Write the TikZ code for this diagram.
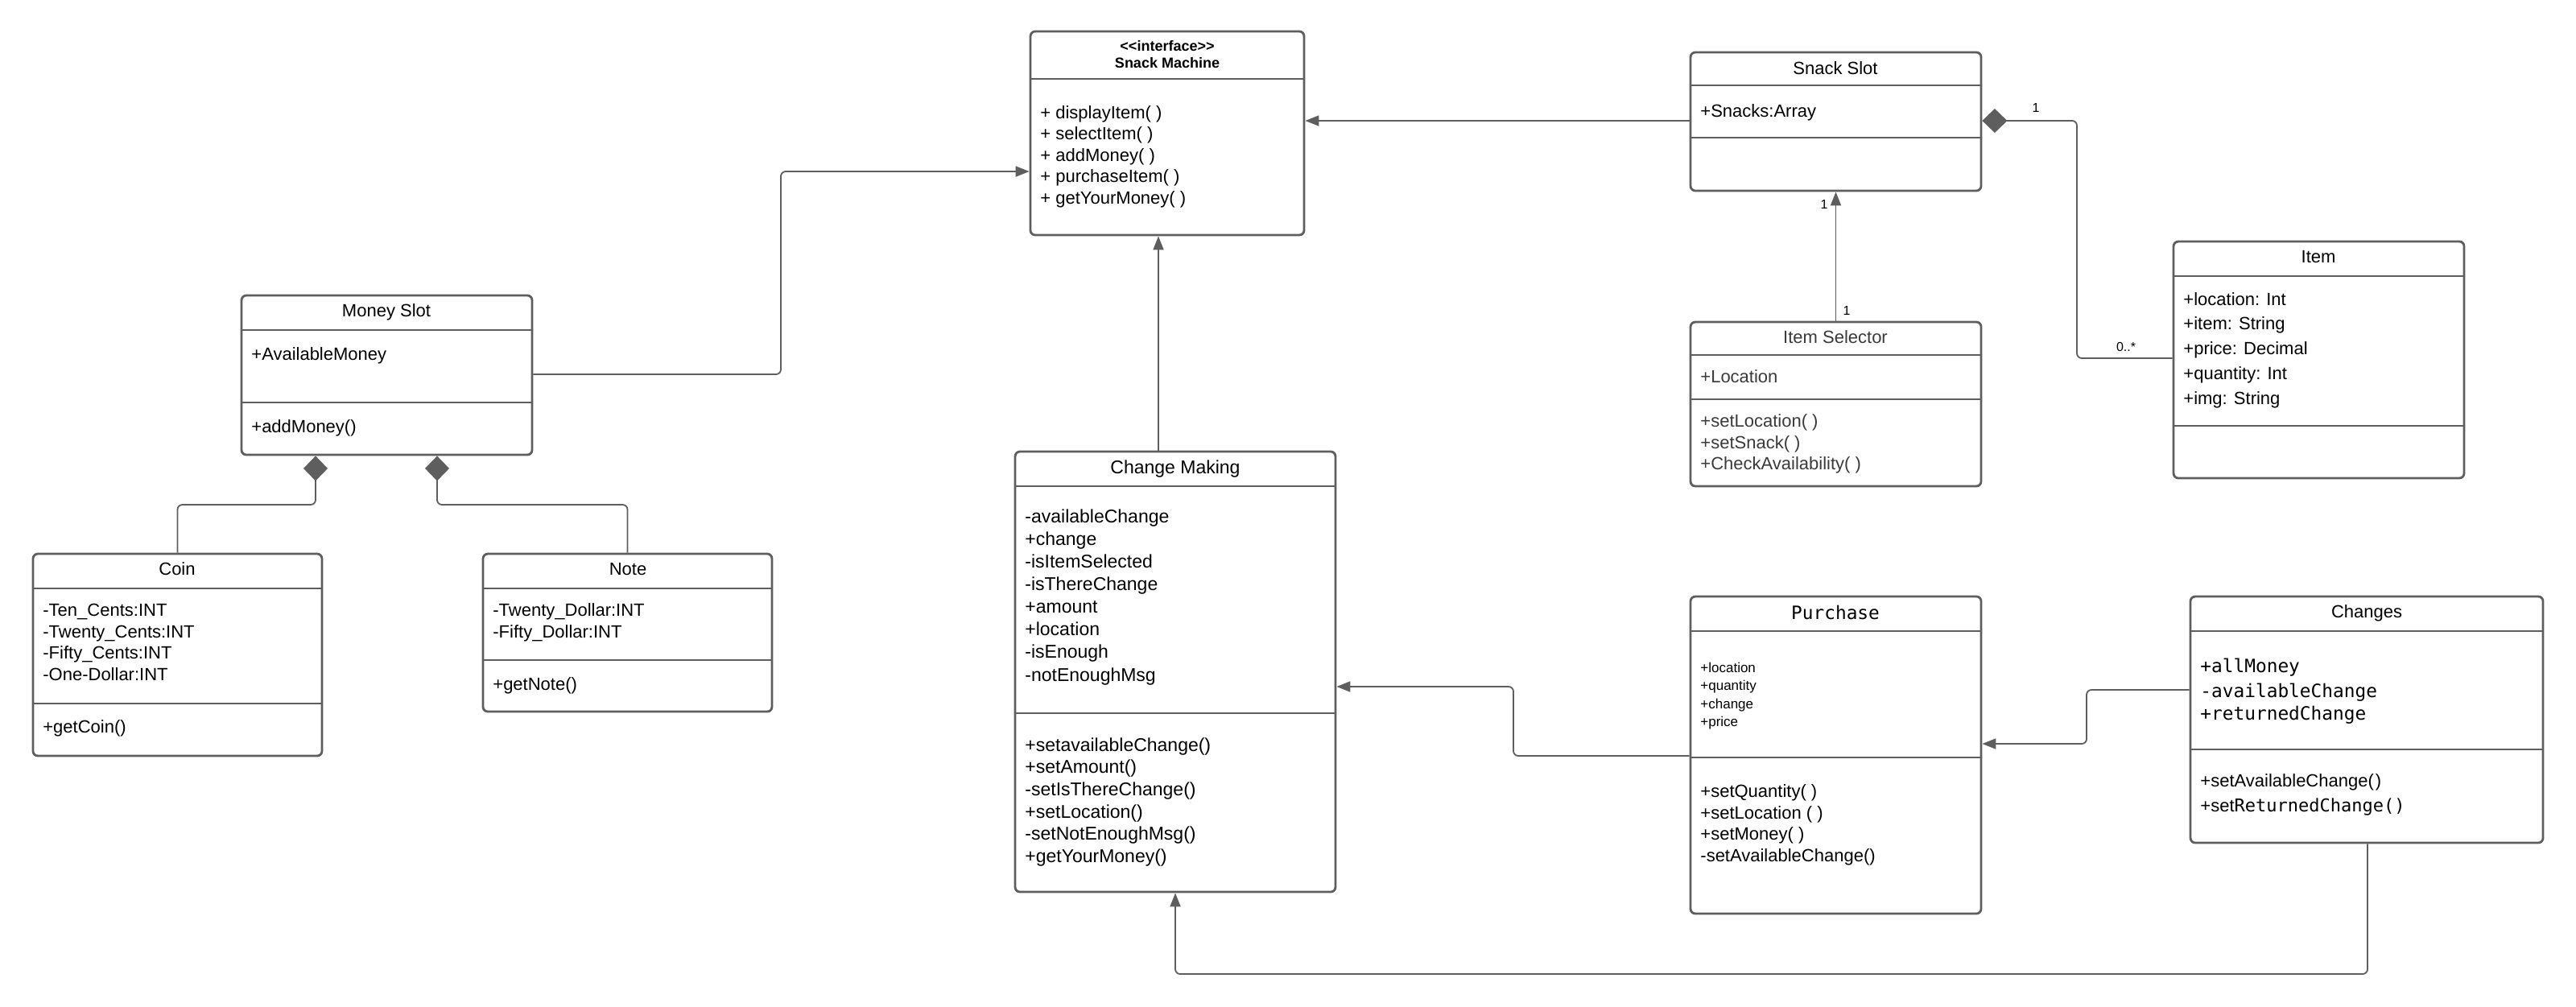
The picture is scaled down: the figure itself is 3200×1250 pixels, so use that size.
\documentclass[tikz,border=0pt]{standalone}
\usepackage{fontspec}
\setmainfont{Liberation Sans}
\newfontfamily\monof{DejaVu Sans Mono}
\usetikzlibrary{arrows.meta,fit,calc}
\definecolor{ln}{HTML}{5E5E5E}
\definecolor{isg}{HTML}{3A3A3A}
\tikzset{
 classbox/.style={draw=ln, line width=1.4pt, rounded corners=3pt, inner sep=0pt, fill=white},
 divline/.style={draw=ln, line width=1.4pt},
 conn/.style={draw=ln, line width=0.9pt, rounded corners=3pt},
 tri/.style={-{Triangle[length=8.5pt,width=6.5pt]}},
 dia/.style={{Diamond[length=15.5pt,width=15pt]}-},
 txt/.style={anchor=mid west, inner sep=0pt, yshift=-1pt, font=\fontsize{11}{13}\selectfont},
 bigtxt/.style={anchor=mid west, inner sep=0pt, yshift=-1pt, font=\fontsize{11.5}{13}\selectfont},
 smalltxt/.style={anchor=mid west, inner sep=0pt, yshift=-1pt, font=\fontsize{8.5}{10}\selectfont},
 monotxt/.style={anchor=mid west, inner sep=0pt, yshift=-1pt, font=\fontsize{11.4}{13}\monof},
 ttl/.style={anchor=mid, inner sep=0pt, yshift=-1pt, font=\fontsize{11}{13}\selectfont},
 hdr/.style={anchor=mid, inner sep=0pt, yshift=-0.5pt, font=\fontsize{9}{11}\selectfont\bfseries},
 mult/.style={anchor=mid, inner sep=0pt, font=\fontsize{8}{10}\selectfont},
}
\newcommand\umlcls[7]{%
 \node[classbox, fit={(#2,#3) (#4,#5)}] (#1) {};
 \draw[divline] (#2,#6) -- (#4,#6);
 \draw[divline] (#2,#7) -- (#4,#7);}
\newcommand\rows[6]{%
 \foreach \t [count=\i] in {#6} {\node[#5] (#1-\i) at (#2, {#3+(\i-1)*#4}) {\t};}}
\begin{document}
\begin{tikzpicture}[x=0.5pt,y=-0.5pt]
\fill[white] (0,0) rectangle (3200,1250);
\useasboundingbox (0,0) rectangle (3200,1250);

% Snack Machine
\node[classbox, fit={(1280,39) (1620,292)}] (sm) {};
\draw[divline] (1280,98) -- (1620,98);
\node[hdr] (sm-t1) at (1450,57) {<\kern0pt<interface>\kern0pt>};
\node[hdr] (sm-t2) at (1450,78) {Snack Machine};
\rows{sm-m}{1292}{140}{26.5}{txt}{+ displayItem( ), + selectItem( ), + addMoney( ), + purchaseItem( ), + getYourMoney( )}

% Snack Slot
\umlcls{ss}{2100}{65}{2461}{237}{106}{171}
\node[ttl] (ss-t) at (2280,85) {Snack Slot};
\node[txt] (ss-a) at (2112,138) {+Snacks:Array};

% Item Selector
\umlcls{is}{2100}{400}{2461}{604}{441}{496}
\node[ttl,text=isg] (is-t) at (2280,419) {Item Selector};
\node[txt,text=isg] (is-a) at (2112,468) {+Location};
\rows{is-m}{2112}{523}{26.7}{txt,text=isg}{+setLocation( ), +setSnack( ), +CheckAvailability( )}

% Item
\umlcls{it}{2700}{300}{3061}{594}{343}{529}
\node[ttl] (it-t) at (2880,319) {Item};
\rows{it-a}{2712}{372}{30.7}{txt}{+location: Int, +item: String, +price: Decimal, +quantity: Int, +img: String}

% Money Slot
\umlcls{ms}{300}{367}{661}{565}{410}{500}
\node[ttl] (ms-t) at (480,386) {Money Slot};
\node[txt] (ms-a) at (312,440) {+AvailableMoney};
\node[txt] (ms-m) at (312,530) {+addMoney()};

% Coin
\umlcls{coin}{41}{688}{400}{939}{731}{874}
\node[ttl] (coin-t) at (220,707) {Coin};
\rows{coin-a}{53}{758}{26.7}{txt}{-Ten\_Cents:INT, -Twenty\_Cents:INT, -Fifty\_Cents:INT, -One-Dollar:INT}
\node[txt] (coin-m) at (53,903) {+getCoin()};

% Note
\umlcls{note}{600}{688}{959}{884}{731}{820}
\node[ttl] (note-t) at (780,707) {Note};
\rows{note-a}{612}{758}{26.7}{txt}{-Twenty\_Dollar:INT, -Fifty\_Dollar:INT}
\node[txt] (note-m) at (612,850) {+getNote()};

% Change Making
\umlcls{cm}{1261}{561}{1659}{1108}{604}{886}
\node[ttl,font=\fontsize{11.5}{13}\selectfont] (cm-t) at (1460,581) {Change Making};
\rows{cm-a}{1273}{642}{28.1}{bigtxt}{-availableChange, +change, -isItemSelected, -isThereChange, +amount, +location, -isEnough, -notEnoughMsg}
\rows{cm-m}{1273}{926}{27.6}{bigtxt}{+setavailableChange(), +setAmount(), -setIsThereChange(), +setLocation(), -setNotEnoughMsg(), +getYourMoney()}

% Purchase
\umlcls{pu}{2100}{741}{2461}{1135}{784}{941}
\node[ttl,font=\fontsize{11.4}{13}\monof] (pu-t) at (2280,762) {Purchase};
\rows{pu-a}{2112}{828}{22.5}{smalltxt}{+location, +quantity, +change, +price}
\rows{pu-m}{2112}{983}{26.8}{txt}{+setQuantity( ), +setLocation ( ), +setMoney( ), -setAvailableChange()}

% Changes
\umlcls{ch}{2721}{741}{3159}{1047}{784}{931}
\node[ttl] (ch-t) at (2940,760) {Changes};
\node[monotxt] (ch-a1) at (2733,828) {+allMoney};
\node[monotxt] (ch-a2) at (2733,859) {-availableChange};
\node[monotxt] (ch-a3) at (2733,887) {+returnedChange};
\node[txt] (ch-m1) at (2733,970) {+setAvailableChange(\kern1pt)};
\node[txt] (ch-m2) at (2733,1001) {+set{\monof ReturnedChange()}};

% Connectors
\draw[conn,tri] (ms.east |- 0,465) -- (970,465) -- (970,213) -- (sm.west |- 0,213);
\draw[conn,tri] (ss.west |- 0,150) -- (sm.east |- 0,150);
\draw[conn,tri] (cm.north -| 1439,0) -- (sm.south -| 1439,0);
\draw[conn,tri] (is.north) -- (ss.south);
\draw[conn,dia] (ss.east |- 0,150) -- (2580,150) -- (2580,445) -- (it.west |- 0,445);
\draw[conn,dia] (ms.south -| 392,0) -- (392,627) -| (coin.north);
\draw[conn,dia] (ms.south -| 543,0) -- (543,627) -| (note.north);
\draw[conn,tri] (pu.west |- 0,939) -- (1880,939) -- (1880,853) -- (cm.east |- 0,853);
\draw[conn,tri] (ch.west |- 0,857) -- (2592,857) -- (2592,924) -- (pu.east |- 0,924);
\draw[conn,tri] (ch.south -| 2941,0) -- (2941,1210) -- (1460,1210) -- (cm.south);

% Multiplicities
\node[mult] (l1) at (2529,134) {1};
\node[mult] (l2) at (2266,254) {1};
\node[mult] (l3) at (2294,386) {1};
\node[mult] (l4) at (2641,431) {0..*};
\end{tikzpicture}
\end{document}
